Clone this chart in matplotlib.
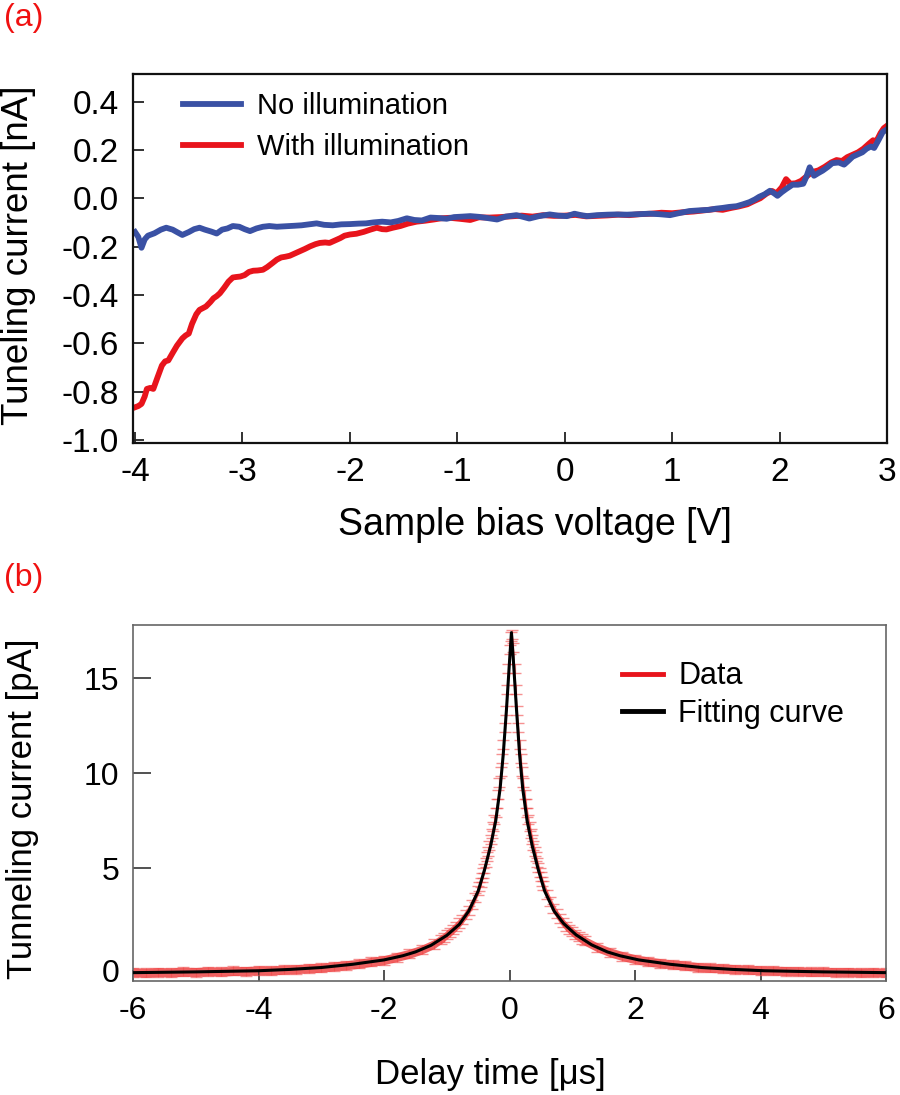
"""Tunneling current vs bias voltage (a) and vs delay time (b)."""

import matplotlib

matplotlib.use("Agg")
import matplotlib.pyplot as plt
import matplotlib.transforms as mtransforms
import numpy as np
from matplotlib.lines import Line2D

plt.rcParams["font.family"] = ["Liberation Sans", "DejaVu Sans"]
plt.rcParams["axes.unicode_minus"] = False

# ---- panel (a): I-V curves ----
bias_dark = [-4.0, -3.97, -3.94, -3.91, -3.88, -3.82, -3.76, -3.71, -3.65, -3.61, -3.56, -3.5,
             -3.45, -3.4, -3.35, -3.29, -3.24, -3.19, -3.14, -3.09, -3.03, -2.98, -2.93, -2.87,
             -2.81, -2.75, -2.68, -2.6, -2.52, -2.45, -2.38, -2.31, -2.24, -2.16, -2.08, -2.0,
             -1.92, -1.85, -1.78, -1.7, -1.62, -1.55, -1.47, -1.4, -1.33, -1.25, -1.17, -1.1,
             -1.03, -0.95, -0.88, -0.8, -0.72, -0.63, -0.55, -0.45, -0.38, -0.33, -0.24, -0.14,
             -0.06, 0.02, 0.09, 0.15, 0.21, 0.3, 0.4, 0.48, 0.58, 0.68, 0.79, 0.88, 0.98, 1.06,
             1.16, 1.26, 1.34, 1.41, 1.47, 1.53, 1.6, 1.66, 1.72, 1.77, 1.81, 1.86, 1.91, 1.95,
             1.98, 2.02, 2.06, 2.12, 2.17, 2.22, 2.25, 2.28, 2.32, 2.36, 2.4, 2.45, 2.49, 2.55,
             2.6, 2.64, 2.68, 2.73, 2.77, 2.81, 2.85, 2.88, 2.92, 2.96, 3.0]
current_dark = [-0.14, -0.16, -0.205, -0.17, -0.155, -0.145, -0.13, -0.122, -0.13, -0.14, -0.152,
                -0.14, -0.128, -0.122, -0.13, -0.138, -0.146, -0.13, -0.125, -0.115, -0.118,
                -0.128, -0.136, -0.125, -0.118, -0.115, -0.118, -0.116, -0.114, -0.112, -0.108,
                -0.104, -0.11, -0.112, -0.108, -0.107, -0.105, -0.104, -0.1, -0.097, -0.1, -0.094,
                -0.083, -0.09, -0.092, -0.08, -0.082, -0.085, -0.078, -0.076, -0.074, -0.077,
                -0.082, -0.088, -0.076, -0.07, -0.078, -0.084, -0.074, -0.067, -0.072, -0.074,
                -0.064, -0.07, -0.074, -0.07, -0.068, -0.067, -0.068, -0.066, -0.064, -0.066,
                -0.07, -0.062, -0.053, -0.05, -0.048, -0.043, -0.04, -0.036, -0.033, -0.025,
                -0.016, -0.005, 0.006, 0.016, 0.031, 0.02, 0.01, 0.025, 0.038, 0.056, 0.056, 0.06,
                0.09, 0.128, 0.093, 0.104, 0.114, 0.13, 0.145, 0.148, 0.139, 0.155, 0.172, 0.182,
                0.19, 0.205, 0.214, 0.208, 0.24, 0.274, 0.285]

bias_light = [-4.0, -3.97, -3.94, -3.91, -3.89, -3.86, -3.83, -3.79, -3.75, -3.72, -3.69, -3.65,
              -3.61, -3.56, -3.53, -3.5, -3.47, -3.43, -3.4, -3.37, -3.34, -3.3, -3.27, -3.24,
              -3.21, -3.17, -3.13, -3.09, -3.06, -3.02, -2.98, -2.94, -2.9, -2.86, -2.81, -2.77,
              -2.72, -2.68, -2.64, -2.6, -2.56, -2.51, -2.47, -2.42, -2.37, -2.32, -2.28, -2.23,
              -2.19, -2.14, -2.09, -2.05, -2.0, -1.94, -1.87, -1.81, -1.75, -1.7, -1.66, -1.6,
              -1.53, -1.46, -1.38, -1.3, -1.22, -1.15, -1.07, -0.98, -0.88, -0.8, -0.7, -0.6,
              -0.5, -0.4, -0.3, -0.2, -0.1, 0.0, 0.1, 0.2, 0.3, 0.4, 0.5, 0.6, 0.7, 0.8, 0.9, 1.0,
              1.1, 1.2, 1.3, 1.4, 1.47, 1.55, 1.62, 1.7, 1.76, 1.82, 1.88, 1.93, 1.97, 2.02, 2.06,
              2.1, 2.15, 2.2, 2.25, 2.3, 2.36, 2.42, 2.48, 2.53, 2.58, 2.63, 2.68, 2.73, 2.78,
              2.83, 2.87, 2.9, 2.94, 2.97, 3.0]
current_light = [-0.865, -0.86, -0.851, -0.82, -0.789, -0.785, -0.789, -0.74, -0.692, -0.675,
                 -0.671, -0.64, -0.61, -0.58, -0.568, -0.56, -0.52, -0.48, -0.462, -0.455, -0.448,
                 -0.43, -0.414, -0.405, -0.393, -0.37, -0.345, -0.328, -0.326, -0.324, -0.318,
                 -0.305, -0.3, -0.299, -0.296, -0.285, -0.268, -0.254, -0.245, -0.242, -0.238,
                 -0.228, -0.22, -0.21, -0.199, -0.19, -0.185, -0.183, -0.185, -0.175, -0.165,
                 -0.155, -0.15, -0.147, -0.139, -0.13, -0.122, -0.128, -0.129, -0.122, -0.115,
                 -0.105, -0.097, -0.093, -0.088, -0.083, -0.081, -0.085, -0.09, -0.079, -0.08,
                 -0.078, -0.075, -0.072, -0.076, -0.07, -0.073, -0.072, -0.069, -0.075, -0.073,
                 -0.071, -0.068, -0.07, -0.066, -0.064, -0.06, -0.062, -0.058, -0.055, -0.05,
                 -0.045, -0.048, -0.04, -0.034, -0.025, -0.012, 0.0, 0.02, 0.03, 0.02, 0.045,
                 0.079, 0.06, 0.062, 0.072, 0.09, 0.108, 0.115, 0.13, 0.148, 0.158, 0.154, 0.17,
                 0.18, 0.19, 0.205, 0.225, 0.24, 0.235, 0.27, 0.29, 0.3]

bias_ticks = [-4, -3, -2, -1, 0, 1, 2, 3]
iv_ticks = [-1.0, -0.8, -0.6, -0.4, -0.2, 0.0, 0.2, 0.4]

# ---- panel (b): delay-time scan ----
delay_data = [-6.0, -5.8, -5.6, -5.4, -5.2, -5.0, -4.8, -4.6, -4.4, -4.2, -4.0, -3.8, -3.6, -3.4,
              -3.2, -3.0, -2.8, -2.6, -2.4, -2.2, -2.0, -1.8, -1.6, -1.4, -1.2,
              -1.1, -1.05, -1.0, -0.95, -0.9, -0.85, -0.8, -0.75, -0.7, -0.65, -0.6, -0.55, -0.5,
              -0.48, -0.46, -0.44, -0.42, -0.4, -0.38, -0.36, -0.34, -0.32, -0.3, -0.28, -0.26,
              -0.24, -0.22, -0.2, -0.18, -0.16, -0.14, -0.12, -0.1, -0.08, -0.06, -0.04, -0.02,
              0.0, 0.02, 0.04, 0.06, 0.08, 0.1, 0.12, 0.14, 0.16, 0.18, 0.2, 0.22, 0.24, 0.26,
              0.28, 0.3, 0.32, 0.34, 0.36, 0.38, 0.4, 0.42, 0.44, 0.46, 0.48, 0.5, 0.52, 0.54,
              0.6, 0.65, 0.7, 0.75, 0.8, 0.85, 0.9, 0.95, 1.0, 1.05, 1.1, 1.15, 1.2,
              1.4, 1.6, 1.8, 2.0, 2.2, 2.4, 2.6, 2.8, 3.0, 3.2, 3.4, 3.6, 3.8, 4.0, 4.2, 4.4,
              4.6, 4.8, 5.0, 5.2, 5.4, 5.6, 5.8, 6.0]
current_data = [-0.47, -0.5, -0.46, -0.48, -0.44, -0.46, -0.42, -0.44, -0.4, -0.41, -0.37, -0.38,
                -0.33, -0.31, -0.26, -0.23, -0.16, -0.1, -0.02, 0.08, 0.17, 0.33, 0.5, 0.72, 1.02,
                1.25, 1.35, 1.52, 1.64, 1.78, 1.95, 2.12, 2.32, 2.55, 2.8, 3.1, 3.45, 3.85,
                4.05, 4.25, 4.5, 4.75, 5.0, 5.3, 5.6, 5.9, 6.2, 6.5, 6.85, 7.2, 7.55, 7.95,
                8.4, 8.9, 9.5, 10.1, 10.8, 11.5, 12.4, 13.3, 14.4, 15.5, 16.5, 17.2, 17.3,
                16.6, 15.5, 14.4, 13.3, 12.4, 11.5, 10.8, 10.1, 9.5, 8.9, 8.4, 7.95, 7.55, 7.2,
                6.85, 6.5, 6.2, 5.9, 5.6, 5.3, 5.05, 4.8, 4.55, 4.3, 4.1,
                3.6, 3.25, 2.9, 2.6, 2.35, 2.15, 1.95, 1.8, 1.66, 1.52, 1.4, 1.28, 1.18,
                0.84, 0.58, 0.38, 0.22, 0.1, 0.01, -0.06, -0.12, -0.2, -0.24, -0.27, -0.31, -0.33,
                -0.37, -0.38, -0.41, -0.42, -0.45, -0.44, -0.47, -0.46, -0.49, -0.47, -0.5]
data_err = 0.24

delay_fit = [-6.0, -5.0, -4.0, -3.5, -3.0, -2.5, -2.0, -1.7, -1.5, -1.25, -1.0, -0.8, -0.65, -0.5,
             -0.4, -0.3, -0.22, -0.15, -0.1, -0.05, 0.0, 0.03, 0.06, 0.11, 0.16, 0.21, 0.28,
             0.36, 0.46, 0.56, 0.71, 0.86, 1.06, 1.31, 1.56, 1.76, 2.06, 2.56, 3.06, 3.56, 4.06,
             5.0, 6.0]
current_fit = [-0.49, -0.45, -0.39, -0.32, -0.22, -0.05, 0.18, 0.4, 0.6, 0.95, 1.47, 2.05, 2.75,
               3.8, 4.9, 6.2, 7.5, 9.2, 11.0, 13.3, 15.9, 17.4, 16.0, 13.4, 11.0, 9.2, 7.5, 6.2,
               4.9, 3.8, 2.75, 2.1, 1.5, 0.97, 0.6, 0.4, 0.18, -0.05, -0.22, -0.32, -0.39, -0.45,
               -0.49]

delay_ticks = [-6, -4, -2, 0, 2, 4, 6]
pa_ticks = [0, 5, 10, 15]

BLUE = "#3A51A4"
RED = "#E8141C"


def main():
    fig = plt.figure(figsize=(9, 10.95), dpi=100)

    # (a)
    ax1 = fig.add_axes([0.1478, 0.5954, 0.8378, 0.337])
    ax1.plot(bias_light, current_light, color=RED, lw=4.2, solid_joinstyle="round")
    ax1.plot(bias_dark, current_dark, color=BLUE, lw=4.2, solid_joinstyle="round")
    ax1.set_xlim(-4.019, 3.0)
    ax1.set_ylim(-1.013, 0.514)
    ax1.set_xticks(bias_ticks)
    ax1.set_yticks(iv_ticks)
    ax1.set_yticklabels([f"{v:.1f}" for v in iv_ticks])
    ax1.tick_params(direction="in", length=8, width=1.3, labelsize=24, pad=10, color="#222222")
    for sp in ax1.spines.values():
        sp.set_linewidth(1.6)
        sp.set_color("#111111")
    ax1.set_xlabel("Sample bias voltage [V]", fontsize=27, va="center")
    ax1.xaxis.set_label_coords(0.533, -0.222)
    ax1.set_ylabel("Tuneling current [nA]", fontsize=26.5, va="center")
    ax1.yaxis.set_label_coords(-0.1525, 0.509)
    handles_a = [Line2D([], [], color=BLUE, lw=4.2), Line2D([], [], color=RED, lw=4.2)]
    ax1.legend(handles_a, ["No illumination", "With illumination"], loc="upper left",
               bbox_to_anchor=(0.066, 0.95), frameon=False, fontsize=21, handlelength=2.0,
               handletextpad=0.55, labelspacing=0.42, borderpad=0, borderaxespad=0)

    # (b)
    ax2 = fig.add_axes([0.1478, 0.1041, 0.8367, 0.3251])
    t = np.array(delay_data)
    i = np.array(current_data)
    ax2.fill_between(t, i - data_err, i + data_err, color="#EA2020", alpha=0.7, lw=0)
    ax2.errorbar(t, i, yerr=data_err, fmt="none", ecolor="#F04848", alpha=0.6,
                 elinewidth=0.9, capsize=4.5, capthick=1.0)
    ax2.plot(delay_fit, current_fit, color="black", lw=2.2, zorder=5)
    ax2.set_xlim(-6, 6)
    ax2.set_ylim(-0.93, 17.8)
    ax2.set_xticks(delay_ticks)
    ax2.set_yticks(pa_ticks)
    ax2.tick_params(direction="in", labelsize=23, width=1.2, color="#333333")
    ax2.tick_params(axis="x", length=8, pad=11)
    ax2.tick_params(axis="y", length=13, pad=10)
    for sp in ax2.spines.values():
        sp.set_linewidth(1.2)
        sp.set_color("#666666")
    ax2.set_xlabel("Delay time [\u03bcs]", fontsize=25, va="center")
    ax2.xaxis.set_label_coords(0.474, -0.264)
    ax2.set_ylabel("Tunneling current [pA]", fontsize=25, va="center")
    ax2.yaxis.set_label_coords(-0.1467, 0.483)
    # the "0" label sits a little lower than its tick in the source figure,
    # and the tick mark itself is not drawn
    tick0 = ax2.yaxis.get_major_ticks()[0]
    tick0.tick1line.set_visible(False)
    tick0.label1.set_transform(tick0.label1.get_transform()
                               + mtransforms.ScaledTranslation(0, -0.07, fig.dpi_scale_trans))
    handles_b = [Line2D([], [], color=RED, lw=3.5), Line2D([], [], color="black", lw=3.5)]
    ax2.legend(handles_b, ["Data", "Fitting curve"], loc="upper left",
               bbox_to_anchor=(0.649, 0.898), frameon=False, fontsize=22, handlelength=1.35,
               handletextpad=0.5, labelspacing=0.25, borderpad=0, borderaxespad=0)

    fig.text(0.004, 0.984, "(a)", color="#F01010", fontsize=23, va="center", ha="left")
    fig.text(0.004, 0.472, "(b)", color="#F01010", fontsize=23, va="center", ha="left")

    fig.savefig("out.png", dpi=100)


if __name__ == "__main__":
    main()
